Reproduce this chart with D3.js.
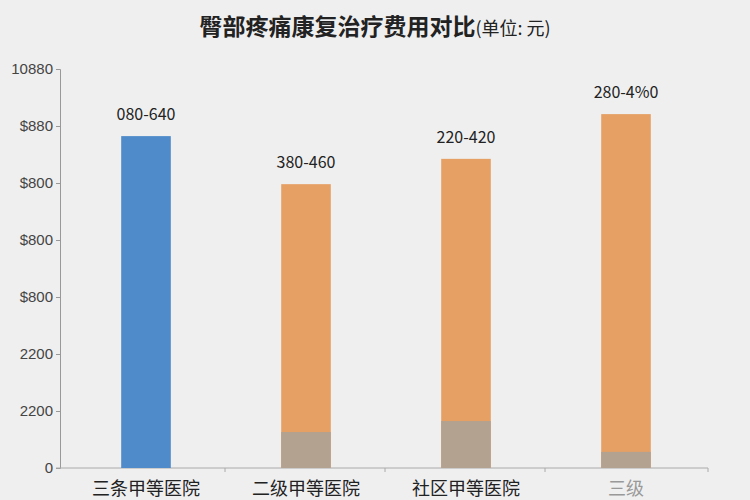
<!DOCTYPE html>
<html><head><meta charset="utf-8">
<script src="https://cdn.jsdelivr.net/npm/d3@7"></script>
<style>body{margin:0;background:#efefef;font-family:"Noto Sans CJK SC","Noto Sans",sans-serif}</style>
</head><body><div id="chart"></div>
<script>
const categories = ['三条甲等医院', '二级甲等医院', '社区甲等医院', '三级'];
const totalValues = [9050, 7740, 8430, 9650];
const baseValues = [0, 980, 1280, 440];
const barLabels = ['080-640', '380-460', '220-420', '280-4%0'];
const tickLabels = ['0', '2200', '2200', '$800', '$800', '$800', '$880', '10880'];
const yMax = 10880;

const svg = d3.select('#chart').append('svg').attr('width', 750).attr('height', 500)
  .style('background', '#efefef');

svg.append('text').attr('x', 375).attr('y', 35).attr('text-anchor', 'middle')
  .attr('font-size', 23).attr('font-weight', 'bold').attr('fill', '#222')
  .text('臀部疼痛康复治疗费用对比')
  .append('tspan').attr('font-size', 18).attr('font-weight', 'normal').text('(单位: 元)');

const x = d3.scaleBand().domain(categories).range([66, 706]).paddingInner(0.69).paddingOuter(0.345);
const y = d3.scaleLinear().domain([0, yMax]).range([468, 69]);

const tickVals = tickLabels.map((d, i) => i * yMax / 7);
const yAxis = svg.append('g').attr('transform', 'translate(60,0)')
  .call(d3.axisLeft(y).tickValues(tickVals).tickFormat((d, i) => tickLabels[i]).tickSize(4));
yAxis.select('.domain').attr('stroke', '#999');
yAxis.selectAll('line').attr('stroke', '#999');
yAxis.selectAll('text').attr('font-size', 15).attr('fill', '#444');

svg.append('line').attr('x1', 56).attr('x2', 708).attr('y1', 468).attr('y2', 468).attr('stroke', '#aaa');
[225, 385, 545, 708].forEach(v => svg.append('line').attr('x1', v).attr('x2', v)
  .attr('y1', 468).attr('y2', 472).attr('stroke', '#aaa'));

svg.selectAll('.bar').data(categories).enter().append('rect')
  .attr('x', d => x(d)).attr('width', x.bandwidth())
  .attr('y', (d, i) => y(totalValues[i])).attr('height', (d, i) => y(0) - y(totalValues[i]))
  .attr('fill', (d, i) => i === 0 ? '#4f8bca' : '#e6a064');

svg.selectAll('.base').data(categories).enter().append('rect')
  .attr('x', d => x(d)).attr('width', x.bandwidth())
  .attr('y', (d, i) => y(baseValues[i])).attr('height', (d, i) => y(0) - y(baseValues[i]))
  .attr('fill', '#b3a28f');

svg.selectAll('.lbl').data(categories).enter().append('text')
  .attr('x', d => x(d) + x.bandwidth() / 2).attr('y', (d, i) => y(totalValues[i]) - 16)
  .attr('text-anchor', 'middle').attr('font-size', 16).attr('fill', '#222')
  .text((d, i) => barLabels[i]);

svg.selectAll('.cat').data(categories).enter().append('text')
  .attr('x', d => x(d) + x.bandwidth() / 2).attr('y', 495)
  .attr('text-anchor', 'middle').attr('font-size', 18)
  .attr('fill', (d, i) => i === 3 ? '#999' : '#222')
  .text(d => d);
</script></body></html>
